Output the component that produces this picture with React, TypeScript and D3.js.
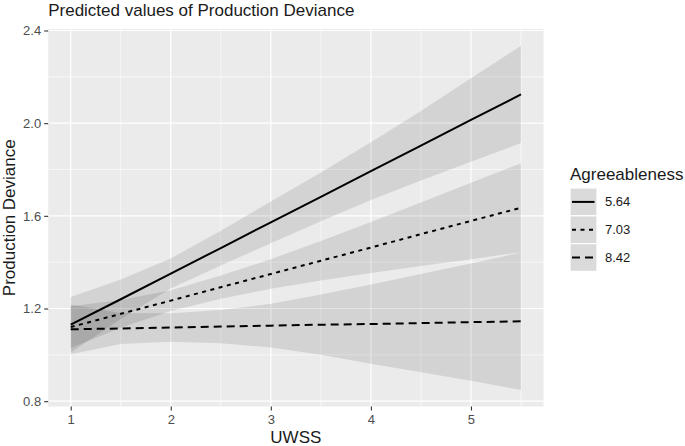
import React, { useEffect, useRef } from 'react';
import * as d3 from 'd3';

// UWSS values where the predictions were read
const UWSS = [1, 1.5, 2, 2.5, 3, 3.5, 4, 4.5, 5, 5.5];

// Agreeableness = 5.64
const FIT_564 = [1.13, 1.24, 1.351, 1.461, 1.572, 1.682, 1.793, 1.903, 2.014, 2.124];
const LOW_564 = [1.01, 1.155, 1.286, 1.386, 1.482, 1.577, 1.668, 1.753, 1.834, 1.914];
const HIGH_564 = [1.25, 1.325, 1.416, 1.536, 1.662, 1.787, 1.918, 2.053, 2.194, 2.334];

// Agreeableness = 7.03
const FIT_703 = [1.12, 1.177, 1.234, 1.292, 1.349, 1.406, 1.463, 1.521, 1.578, 1.635];
const LOW_703 = [1.03, 1.117, 1.189, 1.242, 1.285, 1.321, 1.353, 1.384, 1.413, 1.443];
const HIGH_703 = [1.21, 1.237, 1.279, 1.342, 1.413, 1.491, 1.573, 1.658, 1.743, 1.827];

// Agreeableness = 8.42
const FIT_842 = [1.11, 1.114, 1.118, 1.122, 1.126, 1.13, 1.133, 1.137, 1.141, 1.145];
const LOW_842 = [1.003, 1.047, 1.057, 1.05, 1.032, 1.0, 0.962, 0.925, 0.888, 0.848];
const HIGH_842 = [1.217, 1.181, 1.179, 1.194, 1.22, 1.26, 1.304, 1.349, 1.394, 1.442];

const LEVELS = ['5.64', '7.03', '8.42'];
const DASHES = ['none', '4,4.5', '8,5'];

const X_TICKS = [1, 2, 3, 4, 5];
const X_MINOR = [1.5, 2.5, 3.5, 4.5, 5.5];
const Y_TICKS = [0.8, 1.2, 1.6, 2.0, 2.4];
const Y_MINOR = [1.0, 1.4, 1.8, 2.2];

const W = 685;
const H = 446;
const FONT = '"Liberation Sans", Arial, Helvetica, sans-serif';

const series = [
  { level: LEVELS[0], fit: FIT_564, low: LOW_564, high: HIGH_564, dash: DASHES[0] },
  { level: LEVELS[1], fit: FIT_703, low: LOW_703, high: HIGH_703, dash: DASHES[1] },
  { level: LEVELS[2], fit: FIT_842, low: LOW_842, high: HIGH_842, dash: DASHES[2] },
];

const App: React.FC = () => {
  const svgRef = useRef<SVGSVGElement | null>(null);

  useEffect(() => {
    if (!svgRef.current) return;
    const svg = d3.select(svgRef.current);
    svg.selectAll('*').remove();

    const panel = { left: 48.2, right: 543.5, top: 29, bottom: 406.5 };

    // Scales
    const x = d3.scaleLinear().domain([0.775, 5.725]).range([panel.left, panel.right]);
    const y = d3.scaleLinear().domain([0.777, 2.4065]).range([panel.bottom, panel.top]);

    // Panel + grid
    svg
      .append('rect')
      .attr('x', panel.left)
      .attr('y', panel.top)
      .attr('width', panel.right - panel.left)
      .attr('height', panel.bottom - panel.top)
      .attr('fill', '#ebebeb');

    const grid = svg.append('g').attr('stroke', '#fff');
    const vLines = (vals: number[], sw: number) =>
      grid
        .append('g')
        .selectAll('line')
        .data(vals)
        .join('line')
        .attr('x1', (d) => x(d))
        .attr('x2', (d) => x(d))
        .attr('y1', panel.top)
        .attr('y2', panel.bottom)
        .attr('stroke-width', sw);
    const hLines = (vals: number[], sw: number) =>
      grid
        .append('g')
        .selectAll('line')
        .data(vals)
        .join('line')
        .attr('x1', panel.left)
        .attr('x2', panel.right)
        .attr('y1', (d) => y(d))
        .attr('y2', (d) => y(d))
        .attr('stroke-width', sw);
    vLines(X_MINOR, 0.6);
    hLines(Y_MINOR, 0.6);
    vLines(X_TICKS, 1.2);
    hLines(Y_TICKS, 1.2);

    // Ribbons (confidence bands)
    series.forEach((s) => {
      const band = d3
        .area<number>()
        .x((d) => x(d))
        .y0((_, i) => y(s.low[i]))
        .y1((_, i) => y(s.high[i]));
      svg.append('path').datum(UWSS).attr('d', band).attr('fill', '#000').attr('fill-opacity', 0.1);
    });

    // Predicted lines
    series.forEach((s) => {
      const line = d3
        .line<number>()
        .x((d) => x(d))
        .y((_, i) => y(s.fit[i]));
      svg
        .append('path')
        .datum(UWSS)
        .attr('d', line)
        .attr('fill', 'none')
        .attr('stroke', '#000')
        .attr('stroke-width', 2)
        .attr('stroke-dasharray', s.dash);
    });

    // Axes
    const xAxis = svg
      .append('g')
      .attr('transform', `translate(0,${panel.bottom})`)
      .call(d3.axisBottom(x).tickValues(X_TICKS).tickSize(4).tickPadding(4).tickFormat(d3.format('d')));
    xAxis.select('.domain').remove();
    xAxis.selectAll('line').attr('stroke', '#333').attr('stroke-width', 1.1);
    xAxis.selectAll('text').attr('fill', '#4d4d4d').attr('font-size', 13).attr('font-family', FONT);

    const yAxis = svg
      .append('g')
      .attr('transform', `translate(${panel.left},0)`)
      .call(d3.axisLeft(y).tickValues(Y_TICKS).tickSize(4).tickPadding(3).tickFormat(d3.format('.1f')));
    yAxis.select('.domain').remove();
    yAxis.selectAll('line').attr('stroke', '#333').attr('stroke-width', 1.1);
    yAxis.selectAll('text').attr('fill', '#4d4d4d').attr('font-size', 13).attr('font-family', FONT);

    // Titles
    svg
      .append('text')
      .attr('x', panel.left)
      .attr('y', 16)
      .attr('font-family', FONT)
      .attr('font-size', 17)
      .attr('fill', '#1a1a1a')
      .text('Predicted values of Production Deviance');

    svg
      .append('text')
      .attr('x', (panel.left + panel.right) / 2)
      .attr('y', 442.5)
      .attr('text-anchor', 'middle')
      .attr('font-family', FONT)
      .attr('font-size', 17)
      .attr('fill', '#1a1a1a')
      .text('UWSS');

    svg
      .append('text')
      .attr('transform', `translate(15,${(panel.top + panel.bottom) / 2}) rotate(-90)`)
      .attr('text-anchor', 'middle')
      .attr('font-family', FONT)
      .attr('font-size', 17)
      .attr('fill', '#1a1a1a')
      .text('Production Deviance');

    // Legend
    const legend = svg.append('g').attr('transform', 'translate(570,0)');
    legend
      .append('text')
      .attr('x', 0)
      .attr('y', 179.5)
      .attr('font-family', FONT)
      .attr('font-size', 17)
      .attr('fill', '#1a1a1a')
      .text('Agreeableness');

    const key = 27.8;
    series.forEach((s, i) => {
      const g = legend.append('g').attr('transform', `translate(0,${188 + i * key})`);
      g.append('rect')
        .attr('width', 27)
        .attr('height', key)
        .attr('fill', '#dadada')
        .attr('stroke', '#fff')
        .attr('stroke-width', 1.2);
      g.append('line')
        .attr('x1', 2)
        .attr('x2', 24.5)
        .attr('y1', key / 2)
        .attr('y2', key / 2)
        .attr('stroke', '#000')
        .attr('stroke-width', 2)
        .attr('stroke-dasharray', s.dash);
      g.append('text')
        .attr('x', 35)
        .attr('y', key / 2 + 4.5)
        .attr('font-family', FONT)
        .attr('font-size', 13)
        .attr('fill', '#1a1a1a')
        .text(s.level);
    });
  }, []);

  return (
    <svg
      ref={svgRef}
      width={W}
      height={H}
      style={{ position: 'absolute', left: 0, top: 0, display: 'block', background: '#fff' }}
      aria-label='Predicted values of Production Deviance'
    />
  );
};

export default App;
